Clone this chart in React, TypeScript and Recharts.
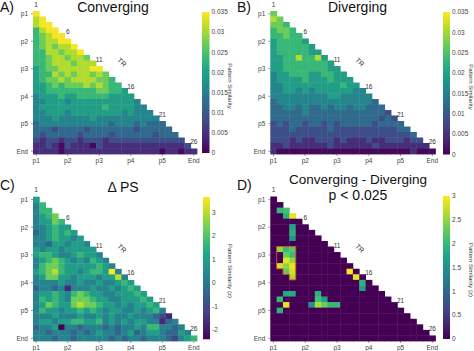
import React from 'react';
import { ScatterChart, Scatter, XAxis, YAxis, ComposedChart, ReferenceArea } from 'recharts';

const AXIS_TICKS = [1, 6, 11, 16, 21, 26];
const AXIS_LABELS = ['p1', 'p2', 'p3', 'p4', 'p5', 'End'];
const DIAG_TICKS = [1, 6, 11, 16, 21, 26];

// one digit per cell (TR), row k holds k cells; 0 = darkest shade .. 9 = brightest
const convergingRows = [
  '9',
  '89',
  '899',
  '6899',
  '67899',
  '678899',
  '6787889',
  '66887889',
  '667887887',
  '6678887888',
  '56778888899',
  '566878788787',
  '5677878888776',
  '55676777878766',
  '556666666677665',
  '4555655666665555',
  '44555455555555554',
  '455555555556555544',
  '4455545555555545444',
  '44454444454444444444',
  '344444444444344434333',
  '3332333323333333233333',
  '32333332333323333332333',
  '212212212221222222222222',
  '1121021110211111111111112',
  '11110111111111111111011011',
];

const divergingRows = [
  '7',
  '87',
  '776',
  '6776',
  '66766',
  '566665',
  '5666665',
  '56666655',
  '556686685',
  '5566666665',
  '55666666655',
  '455666556655',
  '4555565556555',
  '44555555555655',
  '445545455555544',
  '4444444445544444',
  '34444444444444443',
  '334434334344344333',
  '3333343333333333332',
  '33333333333333333232',
  '232332332323333323333',
  '2223222223222222222233',
  '22222222222222222222223',
  '222121122212111211222122',
  '1121111112111111211111111',
  '10000000000000000000001000',
];

const deltaRows = [
  '5',
  '46',
  '466',
  '4567',
  '45576',
  '445655',
  '3456565',
  '44565545',
  '443554554',
  '5455455555',
  '56654456554',
  '456765454654',
  '4677655555654',
  '56786554566594',
  '457755455545584',
  '4444544544544565',
  '34434144454454565',
  '455654676554455565',
  '4656547776554455565',
  '45765578776554545565',
  '465545565654554454564',
  '4445444544545445444321',
  '45545566556454545544134',
  '344504434443434454664434',
  '4434443434544345345543354',
  '44434434444434344344432456',
];

// Converging - Diverging: cells passing p < 0.025 as [row, col, z]; every other cell is 0
const contrastCells: [number, number, number][] = [
  [3, 2, 2.0], [3, 3, 2.1], [4, 3, 1.9], [4, 4, 2.9],
  [6, 4, 1.7], [7, 4, 1.9], [8, 4, 1.6],
  [10, 2, 2.5], [10, 3, 2.0], [10, 4, 2.2],
  [11, 3, 2.3], [11, 4, 2.0],
  [12, 3, 2.9], [12, 4, 2.5],
  [13, 2, 2.8], [13, 3, 2.5], [13, 4, 2.9],
  [14, 3, 2.3], [14, 4, 2.8], [15, 4, 2.6],
  [14, 13, 3.0], [15, 14, 2.9], [16, 15, 1.9], [17, 15, 1.7],
  [18, 3, 1.8], [18, 4, 1.8], [19, 2, 2.0], [20, 3, 2.9], [21, 2, 1.9],
  [18, 8, 1.9], [19, 8, 2.1], [19, 9, 1.7],
  [20, 7, 1.5], [20, 8, 2.6], [20, 9, 2.3], [20, 10, 2.0], [20, 11, 2.0],
];

// cluster outlined in red in panel D, [row, col]
const contrastOutline: [number, number][] = [
  [10, 2], [10, 3], [10, 4], [11, 2], [11, 3], [11, 4], [12, 2], [12, 3], [12, 4],
  [13, 2], [13, 3], [13, 4], [14, 3], [14, 4], [15, 4],
];

const PS_TICKS = [0, 0.005, 0.01, 0.015, 0.02, 0.025, 0.03, 0.035];
const DELTA_TICKS = [-2, -1, 0, 1, 2, 3];
const CONTRAST_TICKS = [0, 0.5, 1, 1.5, 2, 2.5, 3];

const VIRIDIS = ['#440154', '#482475', '#414487', '#355f8d', '#2a788e', '#21918c', '#22a884', '#44bf70', '#7ad151', '#bddf26', '#fde725'];
const FONT = '"Liberation Sans", Arial, sans-serif';

const hexRgb = (h: string) => [1, 3, 5].map((i) => parseInt(h.slice(i, i + 2), 16));

function viridis(t: number) {
  const c = Math.min(1, Math.max(0, t)) * (VIRIDIS.length - 1);
  const i = Math.min(VIRIDIS.length - 2, Math.floor(c));
  const f = c - i;
  const a = hexRgb(VIRIDIS[i]);
  const b = hexRgb(VIRIDIS[i + 1]);
  const m = a.map((v, k) => Math.round(v + (b[k] - v) * f));
  return `rgb(${m[0]},${m[1]},${m[2]})`;
}

// shade digit -> value on each colour bar
const psValue = (d: number) => 0.0008 + d * 0.00375;
const deltaValue = (d: number) => -2.4 + d * 0.67;

type Cell = { x: number; y: number; v: number };

function fromRows(rows: string[], toValue: (d: number) => number): Cell[] {
  const cells: Cell[] = [];
  rows.forEach((row, i) => {
    for (let c = 1; c <= i + 1; c++) {
      const ch = row[Math.min(c - 1, row.length - 1)];
      cells.push({ x: c, y: i + 1, v: toValue(Number(ch)) });
    }
  });
  return cells;
}

function fromSparse(list: [number, number, number][]): Cell[] {
  const cells: Cell[] = [];
  for (let r = 1; r <= 26; r++) {
    for (let c = 1; c <= r; c++) {
      const hit = list.find(([rr, cc]) => rr === r && cc === c);
      cells.push({ x: c, y: r, v: hit ? hit[2] : 0 });
    }
  }
  return cells;
}

type Plot = { x0: number; x1: number; y0: number; y1: number };

function Heatmap({ left, top, height, plot, cells, domain, outline }: {
  left: number; top: number; height: number; plot: Plot; cells: Cell[];
  domain: [number, number]; outline?: [number, number][];
}) {
  const cw = (plot.x1 - plot.x0) / 26;
  const ch = (plot.y1 - plot.y0) / 26;
  const color = (v: number) => viridis((v - domain[0]) / (domain[1] - domain[0]));
  const tick = { fontSize: 6.5, fill: '#444', fontFamily: FONT };
  const fmt = (v: number) => AXIS_LABELS[AXIS_TICKS.indexOf(v)] ?? '';
  const inSet = (r: number, c: number) => !!outline && outline.some(([rr, cc]) => rr === r && cc === c);

  return (
    <div style={{ position: 'absolute', left, top }}>
      <ScatterChart
        width={237}
        height={height}
        margin={{ top: plot.y0, right: 237 - plot.x1, bottom: 0, left: plot.x0 - 25 }}
      >
        <XAxis dataKey="x" type="number" domain={[0.5, 26.5]} ticks={AXIS_TICKS} interval={0}
          height={height - plot.y1} axisLine={false} tickSize={2} tickMargin={2}
          tickLine={{ stroke: '#999' }} tick={tick} tickFormatter={fmt} />
        <YAxis dataKey="y" type="number" reversed domain={[0.5, 26.5]} ticks={AXIS_TICKS} interval={0}
          width={25} axisLine={false} tickSize={2} tickMargin={3}
          tickLine={{ stroke: '#999' }} tick={tick} tickFormatter={fmt} />
        <Scatter
          data={cells}
          isAnimationActive={false}
          shape={(p: any) => (
            <rect x={p.cx - cw / 2} y={p.cy - ch / 2} width={cw + 0.4} height={ch + 0.4} fill={color(p.payload.v)} />
          )}
        />
        {outline && (
          <Scatter
            data={outline.map(([r, c]) => ({ x: c, y: r }))}
            isAnimationActive={false}
            shape={(p: any) => {
              const r = p.payload.y;
              const c = p.payload.x;
              const xa = p.cx - cw / 2, xb = p.cx + cw / 2, ya = p.cy - ch / 2, yb = p.cy + ch / 2;
              const s = { stroke: '#e8502a', strokeWidth: 0.9 };
              return (
                <g>
                  {!inSet(r - 1, c) && <line x1={xa} x2={xb} y1={ya} y2={ya} {...s} />}
                  {!inSet(r + 1, c) && <line x1={xa} x2={xb} y1={yb} y2={yb} {...s} />}
                  {!inSet(r, c - 1) && <line x1={xa} x2={xa} y1={ya} y2={yb} {...s} />}
                  {!inSet(r, c + 1) && <line x1={xb} x2={xb} y1={ya} y2={yb} {...s} />}
                </g>
              );
            }}
          />
        )}
        <Scatter
          data={DIAG_TICKS.map((k) => ({ x: k, y: k }))}
          isAnimationActive={false}
          shape={(p: any) => (
            <text x={p.cx} y={p.cy - ch / 2 - 4.5} textAnchor="middle" fontSize={6.5} fill="#333" fontFamily={FONT}>
              {p.payload.x}
            </text>
          )}
        />
        <Scatter
          data={[{ x: 14.6, y: 9.8 }]}
          isAnimationActive={false}
          shape={(p: any) => (
            <text x={p.cx} y={p.cy} textAnchor="middle" dominantBaseline="central" fontSize={7} fill="#333"
              fontFamily={FONT} transform={`rotate(45 ${p.cx} ${p.cy})`}>
              TR
            </text>
          )}
        />
      </ScatterChart>
    </div>
  );
}

function Colorbar({ left, top, barW, barH, domain, ticks }: {
  left: number; top: number; barW: number; barH: number; domain: [number, number]; ticks: number[];
}) {
  return (
    <div style={{ position: 'absolute', left, top: top - 5 }}>
      <ComposedChart width={barW + 30} height={barH + 10} data={[{ x: 0 }, { x: 1 }]}
        margin={{ top: 5, bottom: 5, left: 0, right: 0 }}>
        <XAxis dataKey="x" type="number" domain={[0, 1]} hide />
        <YAxis type="number" domain={domain} ticks={ticks} interval={0} orientation="right" width={30}
          axisLine={false} tickLine={false} tickSize={0} tickMargin={2}
          tick={{ fontSize: 6.5, fill: '#444', fontFamily: FONT }} tickFormatter={(v: number) => String(v)} />
        <ReferenceArea x1={0} x2={1} y1={domain[0]} y2={domain[1]} fill="url(#viridisBar)" fillOpacity={1}
          stroke="none" ifOverflow="extendDomain" />
      </ComposedChart>
    </div>
  );
}

export default function App() {
  const converging = fromRows(convergingRows, psValue);
  const diverging = fromRows(divergingRows, psValue);
  const delta = fromRows(deltaRows, deltaValue);
  const contrast = fromSparse(contrastCells);

  const title = { fontSize: 14, fill: '#111', fontFamily: FONT };
  const cbTitle = { fontSize: 6, fill: '#333', fontFamily: FONT, textAnchor: 'middle' as const };

  return (
    <div style={{ position: 'absolute', left: 0, top: 0, width: 474, height: 351, background: '#fff', overflow: 'hidden', fontFamily: FONT }}>
      <Heatmap left={0} top={0} height={175} plot={{ x0: 33, x1: 197, y0: 11, y1: 154 }} cells={converging} domain={[0, 0.035]} />
      <Heatmap left={237} top={0} height={175} plot={{ x0: 33.3, x1: 198.5, y0: 11, y1: 154 }} cells={diverging} domain={[0, 0.035]} />
      <Heatmap left={0} top={175} height={176} plot={{ x0: 33, x1: 197, y0: 21.7, y1: 166 }} cells={delta} domain={[-2.4, 3.65]} />
      <Heatmap left={237} top={175} height={176} plot={{ x0: 33.3, x1: 198.5, y0: 21.5, y1: 166 }} cells={contrast} domain={[0, 3]} outline={contrastOutline} />

      <Colorbar left={202} top={12} barW={7.5} barH={141} domain={[0, 0.035]} ticks={PS_TICKS} />
      <Colorbar left={442.5} top={11.5} barW={7} barH={142.5} domain={[0, 0.035]} ticks={PS_TICKS} />
      <Colorbar left={202.5} top={196.7} barW={7} barH={142.3} domain={[-2.4, 3.65]} ticks={DELTA_TICKS} />
      <Colorbar left={442.5} top={196} barW={7} barH={143} domain={[0, 3]} ticks={CONTRAST_TICKS} />

      <svg width={474} height={351} style={{ position: 'absolute', left: 0, top: 0, pointerEvents: 'none' }}>
        <defs>
          <linearGradient id="viridisBar" x1="0" y1="1" x2="0" y2="0">
            {VIRIDIS.map((c, i) => (
              <stop key={i} offset={i / (VIRIDIS.length - 1)} stopColor={c} />
            ))}
          </linearGradient>
        </defs>
        <text x={0} y={11.5} {...title}>A)</text>
        <text x={113} y={12} textAnchor="middle" {...title}>Converging</text>
        <text x={237} y={11.5} {...title}>B)</text>
        <text x={357.5} y={12} textAnchor="middle" {...title}>Diverging</text>
        <text x={0} y={190} {...title}>C)</text>
        <text x={123} y={191.5} textAnchor="middle" {...title}>Δ PS</text>
        <text x={237} y={190} {...title}>D)</text>
        <text x={358} y={183.5} textAnchor="middle" {...title} fontSize={13.5}>Converging - Diverging</text>
        <text x={358} y={200} textAnchor="middle" {...title}>p &lt; 0.025</text>

        <text transform="translate(228,86) rotate(90)" {...cbTitle}>Pattern Similarity</text>
        <text transform="translate(468.5,87) rotate(90)" {...cbTitle}>Pattern Similarity</text>
        <text transform="translate(228,271) rotate(90)" {...cbTitle}>Pattern Similarity (z)</text>
        <text transform="translate(469,270) rotate(90)" {...cbTitle}>Pattern Similarity (z)</text>
      </svg>
    </div>
  );
}
